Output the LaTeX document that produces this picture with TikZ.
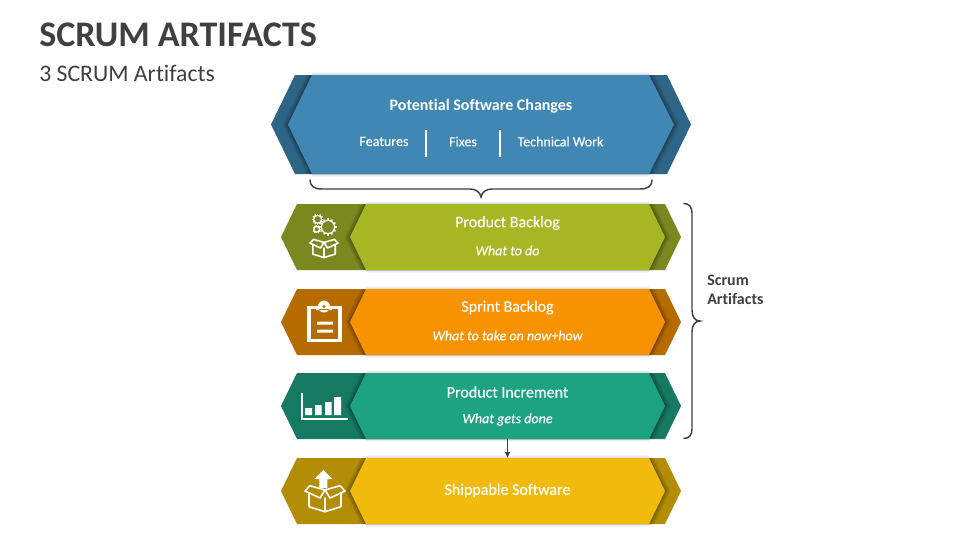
\documentclass[tikz,border=0pt]{standalone}
\usepackage{fontspec}
\setmainfont[Ligatures=NoCommon]{Carlito}
\newfontfamily\softbold[Ligatures=NoCommon,FakeBold=0.25]{Carlito}
\usetikzlibrary{arrows.meta,calc}
\definecolor{ink}{HTML}{404040}
\definecolor{bluef}{HTML}{4087B4}\definecolor{blueb}{HTML}{2E6485}
\definecolor{greenf}{HTML}{A7B724}\definecolor{greenb}{HTML}{7A8820}
\definecolor{orangef}{HTML}{F79200}\definecolor{orangeb}{HTML}{B66B00}
\definecolor{tealf}{HTML}{1EA382}\definecolor{tealb}{HTML}{167A62}
\definecolor{yellowf}{HTML}{F0BB0C}\definecolor{yellowb}{HTML}{B38D06}
\tikzset{
  x=0.75pt,y=-0.75pt,
  head/.style={font=\softbold\fontsize{12}{14}\selectfont,text=white,inner sep=0pt,anchor=center},
  headb/.style={head,font=\fontsize{12}{14}\selectfont\bfseries},
  sub/.style={head,font=\softbold\fontsize{10.5}{12}\selectfont\itshape},
  item/.style={head,font=\softbold\fontsize{10.5}{12}\selectfont},
  brace/.style={draw=ink,line width=1.1pt,line cap=round},
  icon/.style={draw=white,line width=1.2pt,line join=round,line cap=round},
  body/.style={inner sep=0pt,draw=none},
}
% #1 name, #2 top, #3 bottom, #4 front, #5 back,
% #6 back tip L, #7 back corner L, #8 front tip L, #9 front corner L
\newcommand{\hexshape}[9]{%
  \pgfmathsetmacro{\mid}{(#2+#3)/2}%
  \def\nm{#1}\def\ytop{#2}\def\ybot{#3}\def\fc{#4}\def\bc{#5}%
  \def\btl{#6}\def\bcl{#7}\def\ftl{#8}\def\fcl{#9}%
  \hexright}
% #1 front corner R, #2 front tip R, #3 back corner R, #4 back tip R
\newcommand{\hexright}[4]{%
  \foreach \w/\o in {5/.03,3.5/.04,2/.06}{
    \draw[line width=\w*0.75pt,black,opacity=\o,line cap=butt] (\fcl,\ytop-0.3) -- (#1,\ytop-0.3);
    \draw[line width=\w*0.75pt,black,opacity=\o,line cap=butt] (\fcl,\ybot+0.3) -- (#1,\ybot+0.3);
  }
  \fill[\bc] (\btl,\mid) -- (\bcl,\ytop) -- (#3,\ytop) -- (#4,\mid) -- (#3,\ybot) -- (\bcl,\ybot) -- cycle;
  \begin{scope}
    \clip (\btl,\mid) -- (\bcl,\ytop) -- (#3,\ytop) -- (#4,\mid) -- (#3,\ybot) -- (\bcl,\ybot) -- cycle;
    \foreach \w/\o in {10/.05,8/.06,6/.07,4/.08,2/.1}{
      \draw[line width=\w*0.75pt,black,opacity=\o,line join=miter]
        (\ftl,\mid) -- (\fcl,\ytop) -- (#1,\ytop) -- (#2,\mid) -- (#1,\ybot) -- (\fcl,\ybot) -- cycle;
    }
  \end{scope}
  \fill[\fc] (\ftl,\mid) -- (\fcl,\ytop) -- (#1,\ytop) -- (#2,\mid) -- (#1,\ybot) -- (\fcl,\ybot) -- cycle;
  \node[body] (\nm) at ({(\fcl+#1)/2},\mid) {};
  \path (\nm.center |- 0,\ytop) coordinate (\nm-n) (\nm.center |- 0,\ybot) coordinate (\nm-s);
}
\newcommand{\hexrow}[5]{\hexshape{#1}{#2}{#3}{#4}{#5}{281}{297}{350}{366}{649}{665}{665}{681}}
\newcommand{\openbox}{%
  \draw[icon] (-16,-5) -- (-16,8.7) -- (0,13.7) -- (16,8.7) -- (16,-5);
  \draw[icon] (0,0) -- (0,13.7);
  \draw[icon] (-20,-7) -- (-15,-12.3) -- (0,-8) -- (-5,0) -- cycle;
  \draw[icon] (20,-7) -- (15,-12.3) -- (0,-8) -- (5,0) -- cycle;
}
\newcommand{\gear}[4]{%
  \draw[icon,line width=.9pt] (#1,#2) circle[radius=#3];
  \foreach \a in {0,30,...,330}{
    \draw[white,line width=1pt] ($(#1,#2)+(\a:#3)$) -- ($(#1,#2)+(\a:#3+#4)$);
  }
}
\begin{document}
\begin{tikzpicture}
\useasboundingbox (0,0) rectangle (960,540);
\fill[white] (0,0) rectangle (960,540);

\node[anchor=west,inner sep=0pt,text=ink,font=\fontsize{27}{30}\selectfont\bfseries] (title) at (39,34.5) {SCRUM ARTIFACTS};
\node[anchor=west,inner sep=0pt,text=ink,font=\fontsize{17.8}{20}\selectfont] (subtitle) at (39,73) {3 SCRUM Artifacts};

% top hexagon
\hexshape{top}{75}{174}{bluef}{blueb}{271}{295}{288}{312}{649}{674}{667}{691}
\node[headb] (ptitle) at (481,106) {Potential Software Changes};
\node[item] (features) at (384,141.5) {Features};
\node[item] (fixes) at (463,141.5) {Fixes};
\node[item] (tech) at (560.5,141.5) {Technical Work};
\coordinate (s1a) at (426,130); \coordinate (s1b) at (426,157);
\coordinate (s2a) at (500,130); \coordinate (s2b) at (500,157);
\draw[white,line width=1.1pt] (s1a) -- (s1b) (s2a) -- (s2b);

% top brace
\coordinate (b1l) at (310,180); \coordinate (b1r) at (652,180); \coordinate (b1t) at (481,197);
\draw[brace] (b1l) .. controls (310,186) and (314,189) .. (322,189) -- (470,189)
  .. controls (476,189) and (480,192) .. (b1t) .. controls (482,192) and (486,189) .. (492,189)
  -- (640,189) .. controls (648,189) and (652,186) .. (b1r);

% rows
\hexrow{pb}{204}{270}{greenf}{greenb}
\hexrow{sb}{289}{355}{orangef}{orangeb}
\hexrow{pi}{373}{439}{tealf}{tealb}
\hexrow{ss}{458}{524}{yellowf}{yellowb}

\node[head] (pbt) at (507.5,223) {Product Backlog};
\node[sub] (pbs) at (507.5,250.5) {What to do};
\node[head] (sbt) at (507.5,307.5) {Sprint Backlog};
\node[sub] (sbs) at (507.5,335.5) {What to take on now+how};
\node[head] (pit) at (507.5,392) {Product Increment};
\node[sub] (pis) at (507.5,419.5) {What gets done};
\node[head] (sst) at (507.5,490.5) {Shippable Software};

% arrow
\draw[ink,line width=1.1pt,-{Latex[length=4.5pt,width=4.5pt]}] (pi-s) -- (ss-n);

% right brace
\coordinate (b2t) at (684,203.5); \coordinate (b2b) at (684,438.5); \coordinate (b2m) at (700,321);
\draw[brace] (b2t) .. controls (689,203.5) and (692,207) .. (692,213) -- (692,310)
  .. controls (692,317) and (695,321) .. (b2m) .. controls (695,321) and (692,325) .. (692,332)
  -- (692,429) .. controls (692,435) and (689,438.5) .. (b2b);
\node[anchor=west,inner sep=0pt,text=ink,font=\fontsize{12}{14}\selectfont\bfseries] (sa1) at (707,280) {Scrum};
\node[anchor=west,inner sep=0pt,text=ink,font=\fontsize{12}{14}\selectfont\bfseries] (sa2) at (707,299) {Artifacts};

% icon: gears and box
\gear{328}{227}{6.6}{2}
\gear{317.7}{219.3}{4}{1.6}
\gear{316.7}{229.3}{2.8}{1.3}
\begin{scope}[shift={(324,248)},scale=0.7]\openbox\end{scope}

% icon: clipboard
\draw[white,line width=2.6pt] (309,307.7) rectangle (340,340.3);
\fill[white] (324,306.5) circle[radius=6] (316,306) rectangle (332,310);
\fill[orangeb] (324,306.5) circle[radius=1.7];
\fill[white] (317,321.5) rectangle (333,324.5) (317,329.5) rectangle (333,332.5);

% icon: chart
\draw[white,line width=.9pt] (302,393) -- (302,419) -- (348,419);
\fill[white] (305,408) rectangle (312,415) (315,405) rectangle (321.5,415)
  (325,402) rectangle (331.5,415) (334,397) rectangle (341,415);

% icon: box with arrow
\begin{scope}[shift={(325,498)}]\openbox\end{scope}
\fill[white] (323.3,470) -- (332.3,479) -- (327.3,479) -- (327.3,488) -- (319.3,488) -- (319.3,479) -- (314.3,479) -- cycle;
\end{tikzpicture}
\end{document}
